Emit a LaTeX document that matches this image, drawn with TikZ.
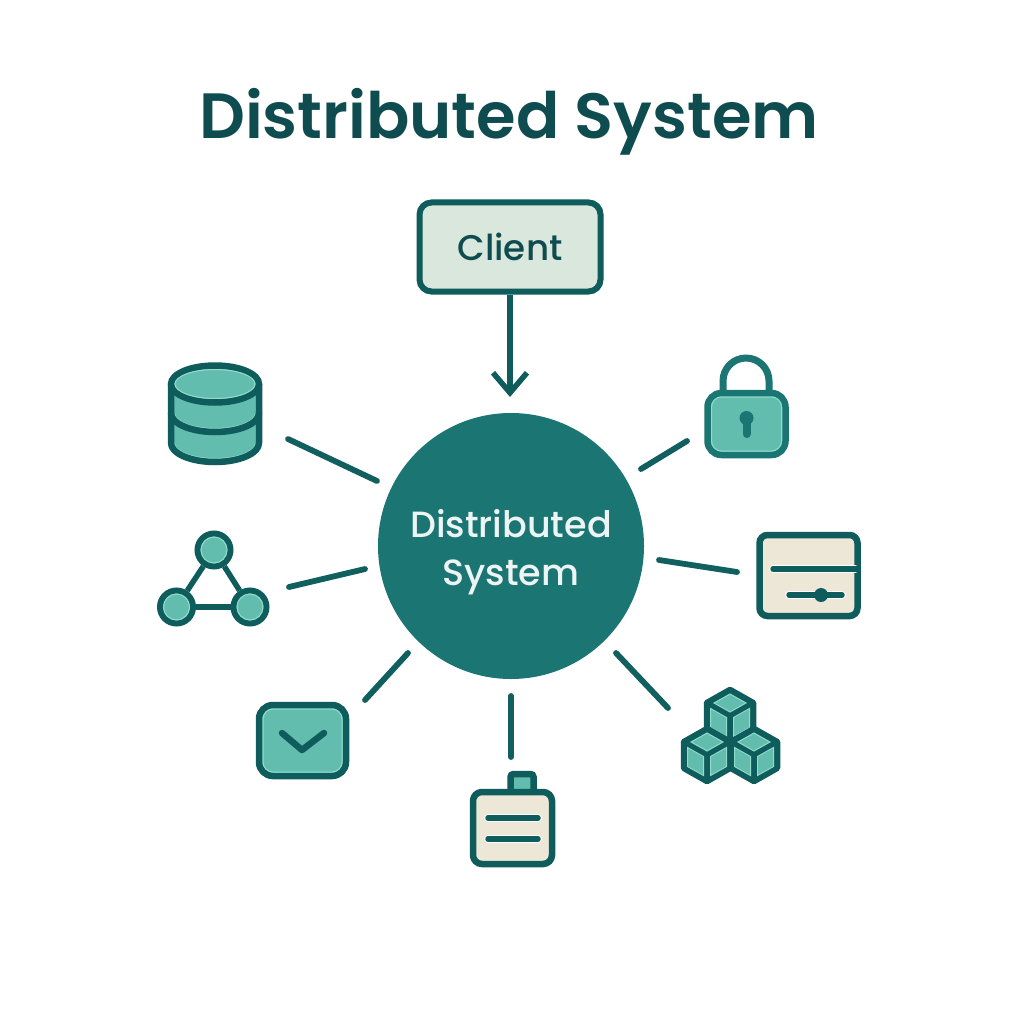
\documentclass[tikz,border=0pt]{standalone}
\usepackage{fontspec}
\setmainfont{Poppins Medium}
\newfontfamily\titlefont{Poppins SemiBold}
\usetikzlibrary{arrows.meta}
\definecolor{inkdark}{HTML}{0F5C5C}
\definecolor{hubteal}{HTML}{1B7673}
\definecolor{titleink}{HTML}{0F4C4F}
\definecolor{mint}{HTML}{62BDAE}
\definecolor{glow}{HTML}{93DCCB}
\definecolor{cream}{HTML}{EDE7D8}
\definecolor{sage}{HTML}{D9E7DC}
\tikzset{
  x=1pt,y=-1pt,
  spoke/.style={draw=inkdark!85!hubteal,line width=5.8pt,line cap=round},
  iconline/.style={draw=inkdark,line width=5.5pt,line cap=round,line join=round},
  box/.style={draw=inkdark,line width=6.5pt,rounded corners=#1,inner sep=0pt},
  box/.default=13pt,
  mintbox/.style={box=#1,fill=mint},
  mintbox/.default=13pt,
  creambox/.style={box=#1,fill=cream},
  creambox/.default=8pt,
  rim/.style={draw=glow,line width=1pt,rounded corners=#1,inner sep=0pt},
  rim/.default=9pt,
  rimline/.style={draw=glow,line width=1pt},
  dot/.style={circle,draw=inkdark,fill=mint,line width=6pt,minimum size=33pt,inner sep=0pt},
  face/.style={fill=mint,draw=inkdark,line width=6.5pt,line join=round},
}
\begin{document}
\begin{tikzpicture}
\useasboundingbox (0,0) rectangle (1024,1024);
\fill[white] (0,0) rectangle (1024,1024);

% title
\node[text=titleink,font={\titlefont\fontsize{64}{70}\selectfont}] (title) at (509,122) {Distributed System};

% main nodes
\node[circle,fill=hubteal,minimum size=266pt,inner sep=0pt] (hub) at (511,546) {};
\node[text=white!92!hubteal,align=center,font={\fontsize{36.5}{48}\selectfont}] (hublabel) at (511,552) {Distributed\\System};
\node[box=12pt,line width=6pt,fill=sage,minimum width=181pt,minimum height=89pt,text=titleink,font={\fontsize{35.7}{40}\selectfont}] (client) at (510,247) {Client};
\coordinate (clienthead) at (client.south |- 0,397);
\draw[draw=inkdark,line width=5.5pt,-{Straight Barb[length=20pt,width=34pt,line width=5.5pt]}] (client.south) -- (clienthead);

% database
\path[fill=mint] (171,384) -- (171,443) arc[start angle=180,end angle=0,x radius=44,y radius=19] -- (259,384) -- cycle;
\draw[rimline] (174.5,413) arc[start angle=180,end angle=0,x radius=40.5,y radius=15.5];
\draw[rimline] (174.5,443) arc[start angle=180,end angle=0,x radius=40.5,y radius=15.5];
\draw[iconline,line width=6.5pt] (171,384) -- (171,443) arc[start angle=180,end angle=0,x radius=44,y radius=19] -- (259,384);
\draw[iconline,line width=6.5pt] (171,413) arc[start angle=180,end angle=0,x radius=44,y radius=19];
\draw[iconline,fill=mint,line width=6.5pt] (215,384) ellipse[x radius=44,y radius=18.5];
\draw[rimline] (215,384) ellipse[x radius=40,y radius=14.5];
\coordinate (dbend) at (288,439);
\coordinate (dbhub) at (377,481);
\draw[spoke] (dbend) -- (dbhub);

% triangle of nodes
\node[dot] (ntop) at (214,550) {};
\node[dot] (nleft) at (176.5,607) {};
\node[dot] (nright) at (250,607) {};
\draw[iconline,line cap=butt] (ntop) -- (nleft);
\draw[iconline,line cap=butt] (ntop) -- (nright);
\draw[iconline,line cap=butt] (nleft) -- (nright);
\foreach \d in {ntop,nleft,nright}{\draw[rimline] (\d) circle[radius=13];}
\coordinate (graphend) at (289,587);
\coordinate (graphhub) at (365,569);
\draw[spoke] (graphend) -- (graphhub);

% lock
\draw[draw=hubteal,line width=7pt] (723,392) -- (723,381) arc[start angle=180,end angle=0,x radius=23,y radius=-23] -- (769,392);
\node[mintbox=14pt,draw=hubteal,line width=6.5pt,minimum width=78pt,minimum height=62pt] (lock) at (746.5,424) {};
\node[rim=10pt,minimum width=70pt,minimum height=54pt] (lockrim) at (lock) {};
\fill[hubteal] (746.5,418) circle[radius=7];
\draw[draw=hubteal,line width=8pt,line cap=round] (746.5,420) -- (746.5,434);
\coordinate (lockend) at (687,441);
\coordinate (lockhub) at (641,469);
\draw[spoke] (lockend) -- (lockhub);

% card with slider
\node[creambox=8pt,minimum width=98pt,minimum height=81pt] (card) at (808.5,575.5) {};
\draw[draw=white,line width=8pt,line cap=round] (773,569) -- (855,569);
\draw[draw=white,line width=8pt,line cap=round] (789,595) -- (842,595);
\draw[iconline] (773,569) -- (858,569);
\draw[iconline] (789,595) -- (842,595);
\fill[inkdark] (821,595) circle[radius=7];
\coordinate (cardend) at (737,572);
\coordinate (cardhub) at (659,560);
\draw[spoke] (cardend) -- (cardhub);

% chevron box
\node[mintbox=14pt,minimum width=87pt,minimum height=71pt] (check) at (302.5,740.5) {};
\node[rim=10pt,minimum width=79pt,minimum height=63pt] (checkrim) at (check) {};
\draw[iconline,line width=6.5pt] (282,733) -- (302,750) -- (324,733);
\coordinate (checkend) at (365,700);
\coordinate (checkhub) at (408,653);
\draw[spoke] (checkend) -- (checkhub);

% badge
\node[mintbox=3pt,minimum width=23pt,minimum height=22pt] (tab) at (522,785) {};
\node[creambox=9pt,minimum width=79pt,minimum height=72pt] (badge) at (512.5,828) {};
\draw[draw=white,line width=8pt,line cap=round] (488,818) -- (538,818);
\draw[draw=white,line width=8pt,line cap=round] (488,839) -- (538,839);
\draw[iconline] (488,818) -- (538,818);
\draw[iconline] (488,839) -- (538,839);
\coordinate (badgeend) at (511,757);
\coordinate (badgehub) at (511,696);
\draw[spoke] (badgeend) -- (badgehub);

% cubes
\foreach \cx/\cy in {730/716,707/755,754/755}{
  \draw[face] (\cx,\cy) -- (\cx+23,\cy-13) -- (\cx,\cy-26) -- (\cx-23,\cy-13) -- cycle;
  \draw[face] (\cx,\cy) -- (\cx-23,\cy-13) -- (\cx-23,\cy+13) -- (\cx,\cy+26) -- cycle;
  \draw[face] (\cx,\cy) -- (\cx+23,\cy-13) -- (\cx+23,\cy+13) -- (\cx,\cy+26) -- cycle;
  \draw[rimline] (\cx,\cy-4) -- (\cx+16,\cy-13) -- (\cx,\cy-22) -- (\cx-16,\cy-13) -- cycle;
  \draw[rimline] (\cx-19.5,\cy-7.5) -- (\cx-3.5,\cy+1.5) -- (\cx-3.5,\cy+20.5) -- (\cx-19.5,\cy+11.5) -- cycle;
  \draw[rimline] (\cx+19.5,\cy-7.5) -- (\cx+3.5,\cy+1.5) -- (\cx+3.5,\cy+20.5) -- (\cx+19.5,\cy+11.5) -- cycle;
}
\coordinate (cubesend) at (668,708);
\coordinate (cubeshub) at (616,653);
\draw[spoke] (cubesend) -- (cubeshub);
\end{tikzpicture}
\end{document}
